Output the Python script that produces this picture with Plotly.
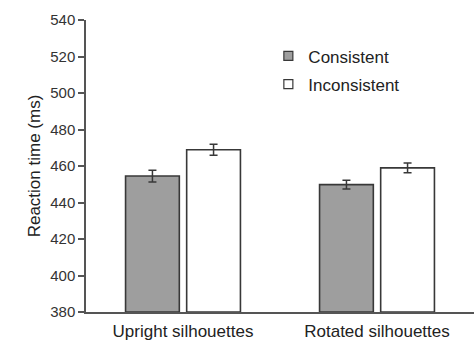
import plotly.graph_objects as go

categories = ["Upright silhouettes", "Rotated silhouettes"]
consistent = [454.5, 449.8]
consistent_err = [3.2, 2.4]
inconsistent = [468.9, 459.0]
inconsistent_err = [3.0, 2.7]
y_ticks = [380, 400, 420, 440, 460, 480, 500, 520, 540]

edge = "#383838"
font = "Liberation Sans, Arial, sans-serif"

fig = go.Figure()
fig.add_trace(go.Bar(
    x=categories, y=[v - 380 for v in consistent], base=380, name="Consistent",
    marker=dict(color="#9e9e9e", line=dict(color=edge, width=1.6)),
    error_y=dict(type="data", array=consistent_err, color=edge, thickness=1.5, width=4),
    showlegend=False,
))
fig.add_trace(go.Bar(
    x=categories, y=[v - 380 for v in inconsistent], base=380, name="Inconsistent",
    marker=dict(color="white", line=dict(color=edge, width=1.6)),
    error_y=dict(type="data", array=inconsistent_err, color=edge, thickness=1.5, width=4),
    showlegend=False,
))
# legend entries
fig.add_trace(go.Scatter(x=[None], y=[None], mode="markers", name="Consistent",
                         legendgroup="a",
                         marker=dict(symbol="square", size=9, color="#9e9e9e",
                                     line=dict(color=edge, width=1.2))))
fig.add_trace(go.Scatter(x=[None], y=[None], mode="markers", name="Inconsistent",
                         legendgroup="b",
                         marker=dict(symbol="square", size=9, color="white",
                                     line=dict(color=edge, width=1.2))))

fig.update_layout(
    width=474, height=342,
    margin=dict(l=86, r=0, t=20, b=30),
    plot_bgcolor="white", paper_bgcolor="white",
    barmode="group", bargap=0.37, bargroupgap=0.12,
    font=dict(family=font, color="#222", size=15),
    legend=dict(x=0.47, y=0.937, xanchor="left", yanchor="top",
                font=dict(size=17, color="#222"), itemwidth=30,
                traceorder="grouped", tracegroupgap=3, bgcolor="rgba(0,0,0,0)"),
    xaxis=dict(showline=True, linecolor="#555", linewidth=1.5, ticks="",
               tickfont=dict(size=17, color="#222"), ticklabelstandoff=3, fixedrange=True),
    yaxis=dict(range=[380, 540], tickvals=y_ticks, showgrid=False, zeroline=False,
               showline=True, linecolor="#555", linewidth=1.5,
               ticks="outside", ticklen=6, tickcolor="#555", tickwidth=1.5,
               tickfont=dict(size=15, color="#333"),
               title=dict(text="Reaction time (ms)", font=dict(size=17, color="#222"), standoff=5)),
)
fig.write_html("out.html")
